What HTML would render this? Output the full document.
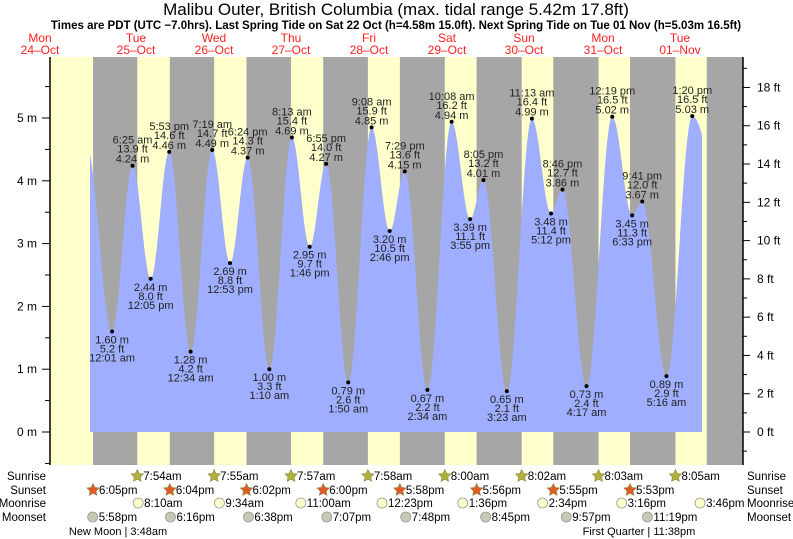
<!DOCTYPE html>
<html><head><meta charset="utf-8"><style>
body{margin:0;background:#fff}
svg{display:block;font-family:"Liberation Sans",sans-serif}
</style></head><body>
<svg id="c" width="793" height="539" viewBox="0 0 793 539">
<text x="396" y="15" text-anchor="middle" font-size="17">Malibu Outer, British Columbia (max. tidal range 5.42m 17.8ft)</text>
<text x="396" y="29" text-anchor="middle" font-size="11.5" font-weight="bold">Times are PDT (UTC −7.0hrs). Last Spring Tide on Sat 22 Oct (h=4.58m 15.0ft). Next Spring Tide on Tue 01 Nov (h=5.03m 16.5ft)</text>
<g id="plot"></g>
<g id="ov"></g>
</svg>
<script>
// hours from 25-Oct 00:00
const tideTimes=[-8,0.02,6.42,12.08,17.88,24.57,31.32,36.88,42.4,49.17,56.22,61.77,66.92,73.83,81.13,86.77,91.48,98.57,106.13,111.92,116.08,123.38,131.22,137.2,140.77,148.28,156.32,162.55,165.68,173.27,181.33,198.2];
const tideHeights=[4.56,1.60,4.24,2.44,4.46,1.28,4.49,2.69,4.37,1.00,4.69,2.95,4.27,0.79,4.85,3.20,4.15,0.67,4.94,3.39,4.01,0.65,4.99,3.48,3.86,0.73,5.02,3.45,3.67,0.89,5.03,1.05];
const tideFt=["","5.2","13.9","8.0","14.6","4.2","14.7","8.8","14.3","3.3","15.4","9.7","14.0","2.6","15.9","10.5","13.6","2.2","16.2","11.1","13.2","2.1","16.4","11.4","12.7","2.4","16.5","11.3","12.0","2.9","16.5",""];
const tideLabels=["","12:01 am","6:25 am","12:05 pm","5:53 pm","12:34 am","7:19 am","12:53 pm","6:24 pm","1:10 am","8:13 am","1:46 pm","6:55 pm","1:50 am","9:08 am","2:46 pm","7:29 pm","2:34 am","10:08 am","3:55 pm","8:05 pm","3:23 am","11:13 am","5:12 pm","8:46 pm","4:17 am","12:19 pm","6:33 pm","9:41 pm","5:16 am","1:20 pm",""];
const dayNames=["Mon","Tue","Wed","Thu","Fri","Sat","Sun","Mon","Tue"];
const dayDates=["24–Oct","25–Oct","26–Oct","27–Oct","28–Oct","29–Oct","30–Oct","31–Oct","01–Nov"];
const sunriseTimes=[7.9,31.92,55.95,79.97,104.0,128.03,152.05,176.08];
const sunriseLabels=["7:54am","7:55am","7:57am","7:58am","8:00am","8:02am","8:03am","8:05am"];
const sunsetTimes=[-5.92,18.07,42.03,66.0,89.97,113.93,137.92,161.88];
const sunsetLabels=["6:05pm","6:04pm","6:02pm","6:00pm","5:58pm","5:56pm","5:55pm","5:53pm"];
const moonriseTimes=[8.17,33.57,59.0,84.38,109.6,134.57,159.27,183.77];
const moonriseLabels=["8:10am","9:34am","11:00am","12:23pm","1:36pm","2:34pm","3:16pm","3:46pm"];
const moonsetTimes=[-6.03,18.27,42.63,67.12,91.8,116.75,141.95,167.32];
const moonsetLabels=["5:58pm","6:16pm","6:38pm","7:07pm","7:48pm","8:45pm","9:57pm","11:19pm"];
const mTicks=[0,1,2,3,4,5];
const ftTicks=[0,2,4,6,8,10,12,14,16,18];

const NS="http://www.w3.org/2000/svg";
const X0=112,PXH=3.2,Y0=432,PXM=62.8;
const L=50,R=743,T=57,B=465;
function xOf(h){return X0+h*PXH;}
function yOf(m){return Y0-m*PXM;}
function mk(tag,attrs,parent,text){const e=document.createElementNS(NS,tag);for(const k in attrs)e.setAttribute(k,attrs[k]);if(text!==undefined)e.textContent=text;parent.appendChild(e);return e;}
const plot=document.getElementById('plot'),ov=document.getElementById('ov'),svg=document.getElementById('c');

let e=mk('rect',{x:L,y:T,width:R-L,height:B-T,fill:'#a6a6a6'},plot);


const nov1Sunset=185.87;
const ss=sunsetTimes.concat([nov1Sunset]);
for(let i=0;i<ss.length;i++){
  const x1=i===0?L:xOf(sunriseTimes[i-1]);const x2=Math.min(R,xOf(ss[i]));
  e=mk('rect',{x:x1,y:T,width:x2-x1,height:B-T,fill:'#ffffcc'},plot);
  
  
}
function hAt(t){
  for(let i=0;i<tideTimes.length-1;i++){
    if(t>=tideTimes[i]&&t<=tideTimes[i+1]){
      const f=(t-tideTimes[i])/(tideTimes[i+1]-tideTimes[i]);
      return tideHeights[i]+(tideHeights[i+1]-tideHeights[i])*(1-Math.cos(Math.PI*f))/2;
    }
  }
  return 0;
}
let pts=[];const xs=90,xe=702;
pts.push(xs+','+Y0);
for(let x=xs;x<=xe;x+=1){pts.push(x+','+yOf(hAt((x-X0)/PXH)).toFixed(1));}
pts.push(xe+','+Y0);
e=mk('polygon',{points:pts.join(' '),fill:'#9faeff'},plot);


for(let i=0;i<tideTimes.length;i++){
  if(!tideLabels[i])continue;
  const x=xOf(tideTimes[i]),y=yOf(tideHeights[i]);
  const high=i>0&&tideHeights[i]>tideHeights[i-1];
  e=mk('circle',{cx:x,cy:y,r:2,fill:'#000'},ov);
  
  
  const g=mk('g',{'font-size':11,'text-anchor':'middle',fill:'#222'},ov);
  
  
  const lines=high?[tideLabels[i],tideFt[i]+' ft',tideHeights[i].toFixed(2)+' m']:[tideHeights[i].toFixed(2)+' m',tideFt[i]+' ft',tideLabels[i]];
  const base=high?[y-22,y-13,y-3]:[y+12,y+21,y+30];
  for(let k=0;k<3;k++)mk('text',{x:x,y:base[k]},g,lines[k]);
}
mk('line',{x1:L,y1:T,x2:L,y2:B,stroke:'#000','stroke-width':1.5},ov);
mk('line',{x1:R,y1:T,x2:R,y2:B,stroke:'#000','stroke-width':1.5},ov);
for(let m=-0.5;m<=5.8;m+=0.5){const y=yOf(m);if(y<T||y>B)continue;mk('line',{x1:(Math.abs(m%1)<0.01?42:45),y1:y,x2:L,y2:y,stroke:'#000'},ov);}
mTicks.forEach(m=>{e=mk('text',{x:37,y:yOf(m)+4,'font-size':12,'text-anchor':'end'},ov,m+' m');});
for(let f=-1;f<=19;f++){const y=yOf(f*0.3048);if(y<T||y>B)continue;mk('line',{x1:R,y1:y,x2:R+(f%2===0?7:4),y2:y,stroke:'#000'},ov);}
ftTicks.forEach(f=>{e=mk('text',{x:757,y:yOf(f*0.3048)+4,'font-size':12},ov,f+' ft');});
const dayX=[40,136,214,291,369,447,524,603,680];
dayNames.forEach((d,i)=>{const g=mk('g',{'font-size':12,'text-anchor':'middle',fill:'#ff2020'},ov);


mk('text',{x:dayX[i],y:42},g,d);mk('text',{x:dayX[i],y:54},g,dayDates[i]);});
const rows=[["Sunrise",476],["Sunset",490],["Moonrise",503],["Moonset",517]];
rows.forEach(r=>{
  e=mk('text',{x:46,y:r[1]+4,'font-size':11.5,'text-anchor':'end'},ov,r[0]);
  e=mk('text',{x:747,y:r[1]+4,'font-size':11.5},ov,r[0]);
});
function star(cx,cy,fill){let p=[];for(let k=0;k<10;k++){const a=-Math.PI/2+k*Math.PI/5,rr=k%2?3.2:6.5;p.push((cx+rr*Math.cos(a)).toFixed(1)+','+(cy+rr*Math.sin(a)).toFixed(1));}return mk('polygon',{points:p.join(' '),fill:fill,stroke:'#8a8a40','stroke-width':0.6},ov);}
function evRow(times,labels,y,kind){
  times.forEach((t,i)=>{const x=xOf(t);
    if(kind==='sunrise')e=star(x,y,'#b0b040');
    else if(kind==='sunset')e=star(x,y,'#e05a28');
    else e=mk('circle',{cx:x,cy:y,r:5,fill:kind==='moonrise'?'#ffffcc':'#c8c8b4',stroke:'#999','stroke-width':0.8},ov);
    
    
    e=mk('text',{x:x+6,y:y+4,'font-size':11.5},ov,labels[i]);
    
    
  });
}
evRow(sunriseTimes,sunriseLabels,476,'sunrise');
evRow(sunsetTimes,sunsetLabels,490,'sunset');
evRow(moonriseTimes,moonriseLabels,503,'moonrise');
evRow(moonsetTimes,moonsetLabels,517,'moonset');
e=mk('text',{x:118,y:535,'font-size':11,'text-anchor':'middle'},ov,'New Moon | 3:48am');


e=mk('text',{x:639,y:535,'font-size':11,'text-anchor':'middle'},ov,'First Quarter | 11:38pm');


</script>
</body></html>
